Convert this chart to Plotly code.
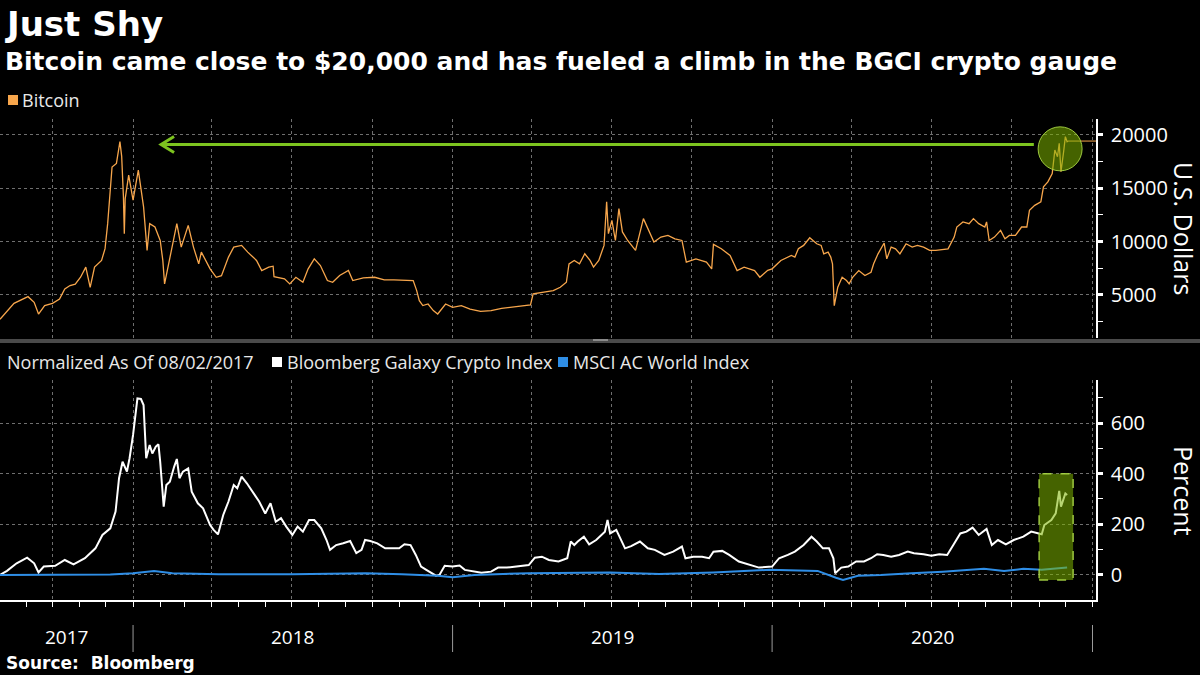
import plotly.graph_objects as go
import pandas as pd

# ---------------- data ----------------
btc_dates = [
    "2017-08-02", "2017-08-10", "2017-08-18", "2017-09-03", "2017-09-10", "2017-09-15", "2017-09-22",
    "2017-10-01", "2017-10-09", "2017-10-15", "2017-10-21", "2017-10-27", "2017-11-02", "2017-11-08",
    "2017-11-13", "2017-11-18", "2017-11-26", "2017-11-30", "2017-12-03", "2017-12-08", "2017-12-13",
    "2017-12-17", "2017-12-19", "2017-12-21", "2017-12-22", "2017-12-23", "2017-12-27",
    "2018-01-01", "2018-01-07", "2018-01-13", "2018-01-17", "2018-01-20", "2018-01-26", "2018-02-01",
    "2018-02-04", "2018-02-06", "2018-02-12", "2018-02-20", "2018-02-25", "2018-03-05", "2018-03-11",
    "2018-03-17", "2018-03-20", "2018-03-30", "2018-04-06", "2018-04-12", "2018-04-20", "2018-04-26",
    "2018-05-05", "2018-05-12", "2018-05-22", "2018-05-28", "2018-06-05", "2018-06-10", "2018-06-11",
    "2018-06-23", "2018-06-29", "2018-07-06", "2018-07-14", "2018-07-20", "2018-07-27", "2018-08-03",
    "2018-08-11", "2018-08-17", "2018-08-25", "2018-09-04", "2018-09-09", "2018-09-21", "2018-10-04",
    "2018-10-15", "2018-10-26", "2018-11-08", "2018-11-17", "2018-11-21", "2018-11-24", "2018-11-28",
    "2018-12-04", "2018-12-10", "2018-12-15", "2018-12-24",
    "2019-01-01", "2019-01-11", "2019-01-21", "2019-02-02", "2019-02-14", "2019-02-26", "2019-03-09",
    "2019-03-21", "2019-03-31", "2019-04-03", "2019-04-14", "2019-04-26", "2019-05-04", "2019-05-11",
    "2019-05-14", "2019-05-20", "2019-05-26", "2019-06-01", "2019-06-07", "2019-06-11", "2019-06-17",
    "2019-06-23", "2019-06-26", "2019-06-28", "2019-07-02", "2019-07-06", "2019-07-10", "2019-07-14",
    "2019-07-20", "2019-07-29", "2019-08-07", "2019-08-13", "2019-08-19", "2019-08-27", "2019-09-04",
    "2019-09-12", "2019-09-20", "2019-09-25", "2019-10-06", "2019-10-18", "2019-10-24", "2019-10-26",
    "2019-11-04", "2019-11-14", "2019-11-22", "2019-11-30", "2019-12-12", "2019-12-18", "2019-12-27",
    "2020-01-01", "2020-01-11", "2020-01-23", "2020-01-27", "2020-01-31", "2020-02-06", "2020-02-13",
    "2020-02-21", "2020-02-26", "2020-02-29", "2020-03-05", "2020-03-08", "2020-03-10", "2020-03-12",
    "2020-03-16", "2020-03-21", "2020-03-26", "2020-03-29", "2020-04-02", "2020-04-09", "2020-04-16",
    "2020-04-23", "2020-04-26", "2020-05-01", "2020-05-08", "2020-05-11", "2020-05-16", "2020-05-21",
    "2020-05-26", "2020-06-02", "2020-06-09", "2020-06-15", "2020-06-22", "2020-06-29", "2020-07-06",
    "2020-07-13", "2020-07-20", "2020-07-27", "2020-07-30", "2020-08-06", "2020-08-13", "2020-08-18",
    "2020-08-24", "2020-08-31", "2020-09-02", "2020-09-05", "2020-09-11", "2020-09-18", "2020-09-23",
    "2020-09-28", "2020-10-05", "2020-10-12", "2020-10-18", "2020-10-21", "2020-10-27", "2020-11-03",
    "2020-11-06", "2020-11-11", "2020-11-16", "2020-11-19", "2020-11-22", "2020-11-24", "2020-11-26",
    "2020-11-29", "2020-12-01", "2020-12-03", "2020-12-04",
]
btc_values = [
    2700, 3500, 4200, 4830, 4300, 3200, 3990,
    4200, 4600, 5560, 5870, 6000, 6650, 7600,
    5700, 7600, 8230, 9330, 11680, 17000, 17330,
    19370, 18000, 14190, 10740, 14000, 16230,
    13880, 16700, 13250, 9170, 11680, 11365, 10100,
    8230, 6030, 8540, 11680, 9480, 11520, 9480,
    7910, 9010, 7440, 6650, 6800, 8540, 9480,
    9640, 9010, 8230, 7280, 7600, 7690, 6700,
    6500, 6030, 6650, 6180, 7440, 8380, 7750,
    6340, 6180, 6810, 7280, 6340, 6590, 6650,
    6400, 6400, 6340, 6340, 5400, 4450, 3990,
    4140, 3520, 3200, 4140,
    3830, 3990, 3670, 3450, 3510, 3730, 3830,
    3990, 4050, 5090, 5240, 5400, 5710, 6180,
    7910, 8230, 7910, 8850, 8230, 7600, 8230,
    9640, 13720, 10740, 11990, 10100, 13090, 10900,
    10100, 9170, 12150, 11050, 9950, 10420, 10580,
    10260, 10100, 8070, 8380, 8070, 7440, 9730,
    9320, 8700, 7280, 7600, 7280, 6650, 7300,
    7440, 8230, 8700, 8540, 9320, 9640, 10360,
    9790, 9640, 8850, 9010, 8540, 7910, 3990,
    5710, 6650, 6340, 6030, 6650, 7280, 6810,
    7120, 7910, 8850, 9860, 8380, 9480, 9320,
    8850, 9790, 9480, 9640, 9480, 9170, 9170,
    9230, 9320, 10420, 11365, 11840, 11680, 12150,
    11680, 11365, 11840, 10100, 10420, 11050, 10260,
    10580, 10580, 11365, 11365, 12930, 13400, 13720,
    15130, 15600, 16390, 18590, 17960, 19215, 16550,
    18430, 19840, 19370, 19430,
]

bgci_dates = [
    "2017-08-02", "2017-08-10", "2017-08-21", "2017-09-02", "2017-09-10", "2017-09-15", "2017-09-21",
    "2017-10-04", "2017-10-15", "2017-10-25", "2017-11-07", "2017-11-19", "2017-11-27", "2017-12-06",
    "2017-12-12", "2017-12-16", "2017-12-20", "2017-12-25", "2017-12-28",
    "2018-01-01", "2018-01-06", "2018-01-10", "2018-01-13", "2018-01-16", "2018-01-20", "2018-01-23",
    "2018-01-27", "2018-01-30", "2018-02-01", "2018-02-05", "2018-02-08", "2018-02-12", "2018-02-17",
    "2018-02-20", "2018-02-23", "2018-02-27", "2018-03-05", "2018-03-09", "2018-03-16", "2018-03-22",
    "2018-03-30", "2018-04-03", "2018-04-08", "2018-04-14", "2018-04-20", "2018-04-26", "2018-04-30",
    "2018-05-05", "2018-05-11", "2018-05-17", "2018-05-25", "2018-06-01", "2018-06-07", "2018-06-13",
    "2018-06-19", "2018-06-25", "2018-07-02", "2018-07-08", "2018-07-14", "2018-07-21", "2018-07-27",
    "2018-08-04", "2018-08-10", "2018-08-14", "2018-08-21", "2018-08-29", "2018-09-06", "2018-09-13",
    "2018-09-19", "2018-09-23", "2018-09-29", "2018-10-07", "2018-10-16", "2018-10-24", "2018-11-01",
    "2018-11-07", "2018-11-14", "2018-11-20", "2018-11-26", "2018-12-02", "2018-12-09", "2018-12-13",
    "2018-12-17", "2018-12-23",
    "2019-01-01", "2019-01-09", "2019-01-15", "2019-01-26", "2019-02-03", "2019-02-14", "2019-02-22",
    "2019-03-04", "2019-03-17", "2019-03-29", "2019-04-05", "2019-04-13", "2019-04-21", "2019-05-02",
    "2019-05-12", "2019-05-16", "2019-05-20", "2019-05-24", "2019-05-31", "2019-06-06", "2019-06-14",
    "2019-06-20", "2019-06-24", "2019-06-27", "2019-06-30", "2019-07-07", "2019-07-11", "2019-07-17",
    "2019-07-24", "2019-08-03", "2019-08-12", "2019-08-20", "2019-08-31", "2019-09-10", "2019-09-20",
    "2019-09-24", "2019-10-03", "2019-10-13", "2019-10-21", "2019-10-26", "2019-11-05", "2019-11-13",
    "2019-11-24", "2019-12-04", "2019-12-17",
    "2020-01-01", "2020-01-09", "2020-01-19", "2020-01-27", "2020-02-06", "2020-02-15", "2020-02-21",
    "2020-02-28", "2020-03-06", "2020-03-11", "2020-03-13", "2020-03-20", "2020-03-28", "2020-04-06",
    "2020-04-15", "2020-04-23", "2020-04-30", "2020-05-07", "2020-05-16", "2020-05-25", "2020-06-04",
    "2020-06-11", "2020-06-22", "2020-07-01", "2020-07-10", "2020-07-19", "2020-07-26", "2020-08-03",
    "2020-08-10", "2020-08-17", "2020-08-24", "2020-09-02", "2020-09-08", "2020-09-15", "2020-09-24",
    "2020-10-03", "2020-10-14", "2020-10-23", "2020-11-04", "2020-11-07", "2020-11-15", "2020-11-20",
    "2020-11-24", "2020-11-26", "2020-12-01", "2020-12-03",
]
bgci_values = [
    0, 16, 46, 68, 46, 10, 33,
    36, 59, 42, 66, 105, 158, 184,
    250, 382, 447, 408, 461,
    553, 697, 695, 671, 461, 513, 480,
    507, 516, 447, 270, 355, 368, 428,
    458, 382, 408, 421, 329, 283, 263,
    197, 178, 160, 237, 290, 355, 342,
    388, 362, 329, 290, 243, 283, 210,
    224, 191, 158, 191, 171, 217, 217,
    184, 138, 99, 118, 125, 134, 86,
    99, 138, 134, 125, 105, 105, 105,
    121, 118, 79, 33, 20, 7, -3,
    0, 36,
    33, 37, 20, 13, 9, 13, 29,
    29, 33, 39, 68, 72, 59, 53,
    66, 132, 118, 132, 151, 121, 138,
    158, 171, 217, 164, 178, 151, 105,
    114, 132, 105, 99, 79, 92, 112,
    66, 72, 72, 66, 92, 95, 79,
    53, 42, 29,
    33, 66, 79, 92, 118, 151, 132,
    105, 105, 66, 7, 29, 33, 53,
    53, 66, 82, 79, 72, 79, 92,
    86, 82, 76, 82, 79, 118, 164,
    171, 187, 158, 182, 118, 138, 121,
    138, 151, 171, 161, 197, 217, 243,
    332, 270, 322, 316,
]

msci_dates = [
    "2017-08-02", "2017-12-06", "2018-01-01", "2018-01-25", "2018-02-15", "2018-04-09", "2018-07-02",
    "2018-09-24", "2018-11-04", "2018-12-15", "2019-01-01", "2019-01-26", "2019-03-29", "2019-05-17",
    "2019-06-30", "2019-08-25", "2019-10-26", "2019-12-29", "2020-02-22", "2020-03-14", "2020-03-22",
    "2020-04-08", "2020-05-04", "2020-06-08", "2020-07-14", "2020-08-30", "2020-09-22", "2020-10-14",
    "2020-11-04", "2020-12-03",
]
msci_values = [
    0, 2, 7, 16, 7, 3, 3,
    7, 3, -3, -9, 0, 7, 7,
    10, 4, 10, 20, 16, -11, -20,
    -3, 0, 7, 13, 24, 16, 24,
    20, 29,
]

year_labels = ["2017", "2018", "2019", "2020"]
year_starts = ["2017-08-02", "2018-01-01", "2019-01-01", "2020-01-01", "2021-01-01"]

# ---------------- styling ----------------
ORANGE = "#f7a64c"
BLUE = "#2f8ee6"
LIME = "#7dc41f"
GRID = "#6f6f6f"
FONT = "Open Sans"
BOLD = "DejaVu Sans"

X_RANGE = ["2017-08-02", "2021-01-05"]
PLOT_W, PLOT_TOP, PLOT_BOT = 1096, 119, 600
PLOT_H = PLOT_BOT - PLOT_TOP


def pxx(x):
    return x / PLOT_W


def pxy(y):
    return (PLOT_BOT - y) / PLOT_H


fig = go.Figure()
fig.add_trace(go.Scatter(x=pd.to_datetime(btc_dates), y=btc_values, mode="lines",
                         line=dict(color=ORANGE, width=1.3), xaxis="x", yaxis="y",
                         showlegend=False, hoverinfo="skip"))
fig.add_trace(go.Scatter(x=pd.to_datetime(bgci_dates), y=bgci_values, mode="lines",
                         line=dict(color="white", width=2), xaxis="x2", yaxis="y2",
                         showlegend=False, hoverinfo="skip"))
fig.add_trace(go.Scatter(x=pd.to_datetime(msci_dates), y=msci_values, mode="lines",
                         line=dict(color=BLUE, width=2), xaxis="x2", yaxis="y2",
                         showlegend=False, hoverinfo="skip"))

common_x = dict(type="date", range=X_RANGE, showgrid=True, gridcolor=GRID, griddash="3px,3px",
                gridwidth=1, dtick="M3", tick0="2017-10-01", zeroline=False, showticklabels=False)
common_y = dict(side="right", showgrid=True, gridcolor=GRID, griddash="3px,3px", gridwidth=1,
                zeroline=False, showline=True, linecolor="white", linewidth=1.5,
                ticks="outside", ticklen=5, tickwidth=3, tickcolor="white",
                tickfont=dict(family=FONT, size=20, color="white"), tickformat="d",
                ticklabelstandoff=4)

fig.update_layout(
    width=1200, height=675,
    paper_bgcolor="black", plot_bgcolor="black",
    margin=dict(l=0, r=1200 - PLOT_W, t=PLOT_TOP, b=675 - PLOT_BOT, pad=0),
    showlegend=False,
    xaxis=dict(**common_x, domain=[0, 1], anchor="y", ticks="", showline=False),
    xaxis2=dict(**common_x, domain=[0, 1], anchor="y2", matches="x", showline=True,
                linecolor="white", linewidth=2, ticks="outside", ticklen=5, tickcolor="white",
                tickwidth=1,
                minor=dict(dtick="M1", tick0="2017-09-01", ticks="outside", ticklen=5,
                           tickcolor="white", tickwidth=1, showgrid=False)),
    yaxis=dict(**common_y, domain=[pxy(338), 1], anchor="x", range=[950, 21500],
               dtick=5000, tick0=0,
               minor=dict(dtick=2500, tick0=0, ticks="outside", ticklen=5, tickwidth=1,
                          tickcolor="white", showgrid=False)),
    yaxis2=dict(**common_y, domain=[0, pxy(380)], anchor="x2", range=[-99, 770],
                dtick=200, tick0=0,
                minor=dict(dtick=100, tick0=0, ticks="outside", ticklen=5, tickwidth=1,
                           tickcolor="white", showgrid=False)),
)

shapes = []
annotations = []

# titles
annotations.append(dict(text="<b>Just Shy</b>", x=pxx(3), y=pxy(24), xref="paper", yref="paper",
                        xanchor="left", yanchor="middle", showarrow=False,
                        font=dict(family=BOLD, size=34, color="white")))
annotations.append(dict(text="<b>Bitcoin came close to $20,000 and has fueled a climb in the BGCI crypto gauge</b>",
                        x=pxx(3), y=pxy(61), xref="paper", yref="paper", xanchor="left",
                        yanchor="middle", showarrow=False,
                        font=dict(family=BOLD, size=25, color="white")))
annotations.append(dict(text="<b>Source:  Bloomberg</b>", x=pxx(4), y=pxy(663), xref="paper",
                        yref="paper", xanchor="left", yanchor="middle", showarrow=False,
                        font=dict(family=BOLD, size=17, color="white")))

# legends
def legend_square(x, y, color):
    shapes.append(dict(type="rect", xref="paper", yref="paper", x0=pxx(x), x1=pxx(x + 10),
                       y0=pxy(y + 5), y1=pxy(y - 5), fillcolor=color, line=dict(width=0),
                       layer="above"))


def legend_text(text, x, y):
    annotations.append(dict(text=text, x=pxx(x), y=pxy(y), xref="paper", yref="paper",
                            xanchor="left", yanchor="middle", showarrow=False,
                            font=dict(family=FONT, size=18, color="#e8e8e8")))


legend_square(8, 100, ORANGE)
legend_text("Bitcoin", 20, 100)
legend_text("Normalized As Of 08/02/2017", 5, 362)
legend_square(272, 362, "white")
legend_text("Bloomberg Galaxy Crypto Index", 285, 362)
legend_square(558, 362, BLUE)
legend_text("MSCI AC World Index", 571, 362)

# axis titles (rotated, reading downward)
for txt, yy in [("U.S. Dollars", 228), ("Percent", 491)]:
    annotations.append(dict(text=txt, x=pxx(1184), y=pxy(yy), xref="paper", yref="paper",
                            xanchor="center", yanchor="middle", textangle=90, showarrow=False,
                            font=dict(family=FONT, size=25, color="white")))

# year labels and separators
starts = pd.to_datetime(year_starts)
for i, lab in enumerate(year_labels):
    mid = starts[i] + (starts[i + 1] - starts[i]) / 2
    annotations.append(dict(text=lab, x=mid, y=pxy(637), xref="x2", yref="paper",
                            xanchor="center", yanchor="middle", showarrow=False,
                            font=dict(family=FONT, size=19, color="white")))
for s in starts[1:]:
    shapes.append(dict(type="line", xref="x2", yref="paper", x0=s, x1=s,
                       y0=pxy(625), y1=pxy(652), line=dict(color="#9a9a9a", width=1)))

# separator bar between panels
shapes.append(dict(type="rect", xref="paper", yref="paper", x0=0, x1=1200 / PLOT_W,
                   y0=pxy(343), y1=pxy(339), fillcolor="#4a4a4a", line=dict(width=0)))
shapes.append(dict(type="rect", xref="paper", yref="paper", x0=pxx(593), x1=pxx(608),
                   y0=pxy(341), y1=pxy(339), fillcolor="#8a8a8a", line=dict(width=0)))

# last-value line for bitcoin
shapes.append(dict(type="line", xref="x", yref="y", x0=btc_dates[-1], x1=X_RANGE[1],
                   y0=btc_values[-1], y1=btc_values[-1], line=dict(color=ORANGE, width=1)))

# green arrow pointing back to the 2017 peak
ARROW_Y = 19100
shapes.append(dict(type="line", xref="x", yref="y", x0="2018-02-03", x1="2020-10-26",
                   y0=ARROW_Y, y1=ARROW_Y, line=dict(color=LIME, width=3), layer="above"))
shapes.append(dict(type="path", xref="x", yref="y", xsizemode="pixel", ysizemode="pixel",
                   xanchor="2018-02-02", yanchor=ARROW_Y, path="M 13,8 L 0,0 L 13,-8",
                   line=dict(color=LIME, width=3), layer="above"))

# highlight circle around latest bitcoin peak
shapes.append(dict(type="circle", xref="x", yref="y", xsizemode="pixel", ysizemode="pixel",
                   xanchor="2020-11-25", yanchor=18700, x0=-22, x1=22, y0=-22, y1=22,
                   fillcolor="rgba(125,180,0,0.55)", line=dict(color="rgba(170,215,70,0.9)", width=1),
                   layer="above"))

# highlight rectangle in lower panel
shapes.append(dict(type="rect", xref="x2", yref="y2", xsizemode="pixel",
                   xanchor=bgci_dates[-1], x0=-28, x1=6, y0=-20, y1=400,
                   fillcolor="rgba(125,180,0,0.55)",
                   line=dict(color="rgba(170,215,70,0.9)", width=1.5, dash="dash"),
                   layer="above"))

fig.update_layout(shapes=shapes, annotations=annotations)
fig.write_html("out.html")
